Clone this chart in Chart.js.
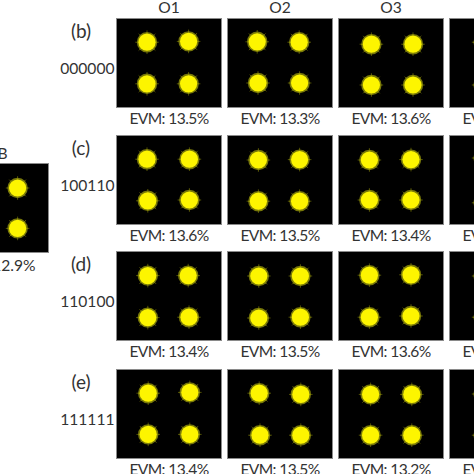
<!DOCTYPE html>
<html><head><meta charset="utf-8">
<script src="https://cdn.jsdelivr.net/npm/chart.js@4"></script>
<style>
html,body{margin:0;padding:0;background:#fff;width:474px;height:474px;overflow:hidden}
#fig{position:relative;width:474px;height:474px;overflow:hidden;font-family:Lato,sans-serif;color:#333;font-size:15.6px}
.panel{position:absolute;width:104px;height:88px;background:#000;outline:1px solid #8a8a8a;outline-offset:0}
.panel canvas{display:block;filter:blur(.45px)}
.t{position:absolute;white-space:nowrap;line-height:18px;height:18px;transform:translateY(-9px)}
.c{transform:translate(-50%,-9px)}
.r{transform:translate(-100%,-9px)}
.evm{letter-spacing:-.6px}
.big{font-size:19px}
</style></head>
<body><div id="fig"></div>
<script>
const rowNames=['(b)','(c)','(d)','(e)'];
const rowCodes=['000000','100110','110100','111111'];
const columnNames=['O1','O2','O3'];
const evmRows=[
 ['EVM: 13.5%','EVM: 13.3%','EVM: 13.6%','EVM: 13.5%'],
 ['EVM: 13.6%','EVM: 13.5%','EVM: 13.4%','EVM: 13.5%'],
 ['EVM: 13.4%','EVM: 13.5%','EVM: 13.6%','EVM: 13.5%'],
 ['EVM: 13.4%','EVM: 13.5%','EVM: 13.2%','EVM: 13.5%']];
const referenceTitle='B';
const referenceEvm='EVM: 12.9%';
// cluster centres (I, Q), per row then column
const clusterI=[
 [[-.55,.49,-.55,.49],[-.57,.48,-.55,.49],[-.49,.55,-.49,.55],[-.46,.5,-.46,.5]],
 [[-.55,.51,-.53,.51],[-.54,.49,-.54,.49],[-.54,.5,-.54,.5],[-.46,.5,-.46,.5]],
 [[-.53,.48,-.53,.5],[-.53,.51,-.53,.51],[-.54,.5,-.54,.5],[-.46,.5,-.46,.5]],
 [[-.52,.52,-.52,.52],[-.52,.52,-.5,.52],[-.51,.52,-.51,.52],[-.46,.5,-.46,.5]]];
const clusterQ=[
 [[.52,.54,-.52,-.52],[.53,.52,-.5,-.5],[.47,.47,-.55,-.55],[.52,.52,-.55,-.55]],
 [[.52,.52,-.52,-.5],[.5,.51,-.53,-.53],[.5,.51,-.5,-.5],[.55,.55,-.57,-.57]],
 [[.51,.51,-.54,-.53],[.5,.5,-.55,-.53],[.52,.53,-.53,-.5],[.5,.5,-.53,-.53]],
 [[.52,.54,-.51,-.51],[.52,.49,-.53,-.53],[.49,.49,-.53,-.53],[.5,.5,-.53,-.53]]];
const referenceI=[-.54,.54,-.54,.54];
const referenceQ=[.5,.5,-.51,-.51];

const columnLeft=[117,228,339,450];
const rowTop=[19,135.5,252,369.5];
const referenceLeft=-56, referenceTop=163.5;
const fig=document.getElementById('fig');
function text(s,x,y,cls){const e=document.createElement('div');e.className='t '+(cls||'');e.textContent=s;e.style.left=x+'px';e.style.top=y+'px';fig.appendChild(e);}
function panel(x,y,I,Q){
 const d=document.createElement('div');d.className='panel';d.style.left=x+'px';d.style.top=y+'px';
 const c=document.createElement('canvas');c.width=104;c.height=88;d.appendChild(c);fig.appendChild(d);
 const pts=I.map((v,i)=>({x:v,y:Q[i]}));
 new Chart(c,{type:'scatter',data:{datasets:[
  {data:pts,order:1,pointRadius:8.6,pointBackgroundColor:'#fdf500',pointBorderWidth:0},
  {data:pts,order:2,pointRadius:10.2,pointBackgroundColor:'rgba(150,150,10,.8)',pointBorderWidth:0},
  {data:pts,order:3,pointStyle:'star',pointRadius:11.8,pointBorderColor:'rgba(150,150,10,.55)',pointBorderWidth:1}]},
  options:{responsive:false,animation:false,layout:{padding:0,autoPadding:false},
   plugins:{legend:{display:false},tooltip:{enabled:false}},
   scales:{x:{type:'linear',display:false,min:-1.3,max:1.3},y:{type:'linear',display:false,min:-1.1,max:1.1}}}});
}
clusterI.forEach((row,r)=>row.forEach((I,c)=>panel(columnLeft[c],rowTop[r],I,clusterQ[r][c])));
panel(referenceLeft,referenceTop,referenceI,referenceQ);
columnNames.forEach((s,c)=>text(s,columnLeft[c]+52,7,'c'));
rowNames.forEach((s,r)=>text(s,81,rowTop[r]+12,'c big'));
rowCodes.forEach((s,r)=>text(s,114.5,rowTop[r]+49,'r'));
evmRows.forEach((row,r)=>row.forEach((s,c)=>text(s,columnLeft[c]+52,rowTop[r]+99,'c evm')));
text(referenceTitle,7.5,153,'r');
text(referenceEvm,35.5,265,'r');
</script></body></html>
